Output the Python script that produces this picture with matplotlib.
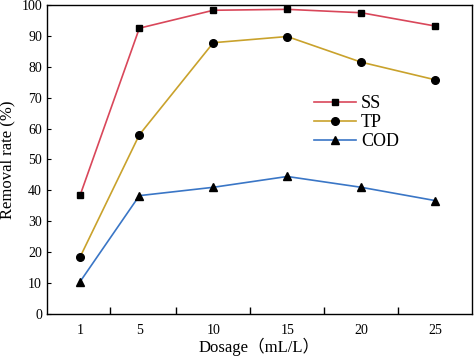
import matplotlib
matplotlib.use("Agg")
import matplotlib.pyplot as plt

dosage = [1, 5, 10, 15, 20, 25]
ss = [38.5, 92.5, 98.3, 98.6, 97.5, 93.2]
tp = [18.5, 58.0, 87.8, 89.8, 81.5, 75.8]
cod = [10.5, 38.3, 41.0, 44.5, 41.0, 36.7]
y_ticks = list(range(0, 101, 10))
x_minor = [3, 7.5, 12.5, 17.5, 22.5]

plt.rcParams["font.family"] = ["Liberation Serif", "Noto Sans CJK SC"]

fig = plt.figure(figsize=(4.74, 3.58), dpi=100)
ax = fig.add_axes([0.099, 0.123, 0.897, 0.863])

ax.plot(dosage, ss, "-", color="#d9475a", lw=1.2, marker="s", ms=5,
        mfc="black", mec="black", label="SS")
ax.plot(dosage, tp, "-", color="#c9a22c", lw=1.2, marker="o", ms=5.5,
        mfc="black", mec="black", label="TP")
ax.plot(dosage, cod, "-", color="#3a76c6", lw=1.2, marker="^", ms=6,
        mfc="black", mec="black", label="COD")

ax.set_xlim(-1.25, 27.5)
ax.set_ylim(0, 100)
ax.set_xticks(dosage)
ax.set_xticks(x_minor, minor=True)
ax.set_yticks(y_ticks)
ax.tick_params(axis="x", which="major", length=0, pad=7, labelsize=10)
ax.tick_params(axis="x", which="minor", direction="in", length=5, width=1)
ax.tick_params(axis="y", direction="in", length=3, labelsize=10)

ax.set_xlabel("Dosage（mL/L）", fontsize=12, labelpad=1)
ax.set_ylabel("Removal rate (%)", fontsize=12, labelpad=4)

for s in ax.spines.values():
    s.set_linewidth(1.0)

ax.legend(loc="upper left", bbox_to_anchor=(0.59, 0.76), frameon=False,
          fontsize=13, handlelength=2.3, labelspacing=0.1, handletextpad=0.3)

fig.savefig("out.png", dpi=100)
